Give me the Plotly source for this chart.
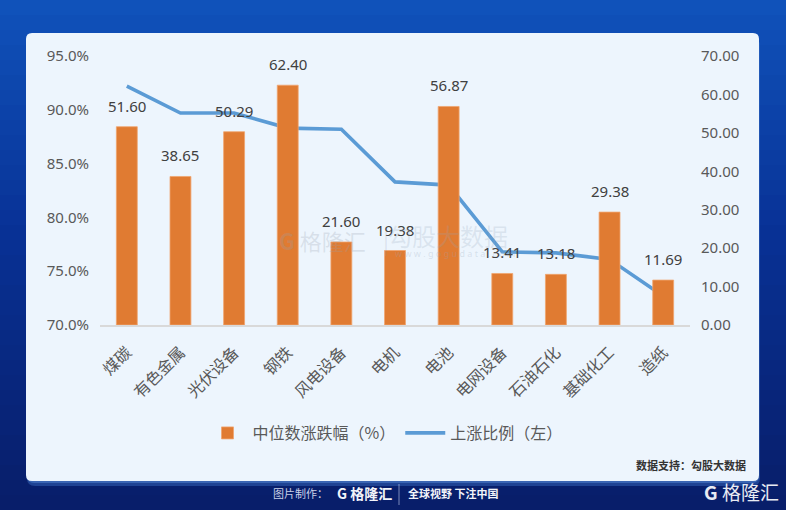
import plotly.graph_objects as go

categories = ["煤碳", "有色金属", "光伏设备", "钢铁", "风电设备", "电机", "电池", "电网设备", "石油石化", "基础化工", "造纸"]
median_change = [51.60, 38.65, 50.29, 62.40, 21.60, 19.38, 56.87, 13.41, 13.18, 29.38, 11.69]
rise_ratio = [92.2, 89.7, 89.7, 88.3, 88.2, 83.3, 83.0, 76.8, 76.7, 76.1, 72.7]
left_ticks = [70, 75, 80, 85, 90, 95]
left_tick_text = ["70.0%", "75.0%", "80.0%", "85.0%", "90.0%", "95.0%"]
right_ticks = [0, 10, 20, 30, 40, 50, 60, 70]

W, H = 786, 510
L, R, T, B = 100, 96, 56, 185
PW, PH = W - L - R, H - T - B


def px(x):
    return (x - L) / PW


def py(y):
    return (H - B - y) / PH


fig = go.Figure()

fig.add_trace(go.Bar(
    x=categories, y=median_change, yaxis="y2", name="中位数涨跌幅（%）",
    marker=dict(color="#e07b32", line=dict(color="#f0a56e", width=0.8)),
))
fig.add_trace(go.Scatter(
    x=categories, y=rise_ratio, yaxis="y", name="上涨比例（左）", mode="lines",
    line=dict(color="#5b9bd5", width=3.6),
))

annotations = []
for c, v in zip(categories, median_change):
    annotations.append(dict(x=c, y=v, xref="x", yref="y2", text=f"{v:.2f}", showarrow=False,
                            yanchor="bottom", yshift=9, font=dict(size=15, color="#404040", family="Noto Sans")))

shapes = []
# background gradient (top brighter blue to bottom navy)
top = (16, 82, 186)
mid = (9, 50, 150)
bot = (8, 30, 106)
n = 34
for i in range(n):
    t = i / (n - 1)
    if t < 0.45:
        u = t / 0.45
        c = tuple(int(top[k] + (mid[k] - top[k]) * u) for k in range(3))
    else:
        u = (t - 0.45) / 0.55
        c = tuple(int(mid[k] + (bot[k] - mid[k]) * u) for k in range(3))
    y0 = H * i / n
    y1 = H * (i + 1) / n + 1
    shapes.append(dict(type="rect", xref="paper", yref="paper", x0=px(0), x1=px(W), y0=py(y1), y1=py(y0),
                       fillcolor=f"rgb{c}", line=dict(width=0), layer="below"))


def rrect(x0, y0, x1, y1, r):
    ax, ay = r / PW, r / PH
    X0, X1, Y0, Y1 = px(x0), px(x1), py(y1), py(y0)
    return (f"M {X0+ax},{Y0} L {X1-ax},{Y0} Q {X1},{Y0} {X1},{Y0+ay} L {X1},{Y1-ay} Q {X1},{Y1} {X1-ax},{Y1} "
            f"L {X0+ax},{Y1} Q {X0},{Y1} {X0},{Y1-ay} L {X0},{Y0+ay} Q {X0},{Y0} {X0+ax},{Y0} Z")


# soft glow below panel
shapes.append(dict(type="path", xref="paper", yref="paper", path=rrect(27, 38, 760, 486, 8),
                   fillcolor="rgba(60,110,195,0.45)", line=dict(width=0), layer="below"))
shapes.append(dict(type="path", xref="paper", yref="paper", path=rrect(27, 36, 759, 483, 7),
                   fillcolor="rgba(80,130,205,0.55)", line=dict(width=0), layer="below"))
shapes.append(dict(type="path", xref="paper", yref="paper", path=rrect(26, 33, 759, 481, 6),
                   fillcolor="#edf5fd", line=dict(width=0), layer="below"))
# footer separator
shapes.append(dict(type="line", xref="paper", yref="paper", x0=px(399), x1=px(399), y0=py(484), y1=py(505),
                   line=dict(color="rgba(200,210,240,0.6)", width=1)))

# watermark
wm = dict(xref="paper", yref="paper", showarrow=False, xanchor="center", yanchor="middle")
annotations.append(dict(wm, x=px(322), y=py(240), text="<b>G</b> 格隆汇",
                        font=dict(size=22, color="rgba(150,160,175,0.25)", family="Noto Sans CJK SC")))
annotations.append(dict(wm, x=px(386), y=py(240), text="|",
                        font=dict(size=22, color="rgba(150,160,175,0.22)", family="Noto Sans CJK SC")))
annotations.append(dict(wm, x=px(448), y=py(235), text="勾股大数据",
                        font=dict(size=24, color="rgba(150,165,185,0.22)", family="Noto Sans CJK SC")))
annotations.append(dict(wm, x=px(455), y=py(254), text="w w w . g o g u d a t a . c o m",
                        font=dict(size=9, color="rgba(150,165,185,0.28)", family="Noto Sans")))

# source
annotations.append(dict(xref="paper", yref="paper", x=px(748), y=py(465), text="<b>数据支持：勾股大数据</b>", showarrow=False,
                        xanchor="right", yanchor="middle", font=dict(size=11, color="#333333", family="Noto Sans CJK SC")))
# footer
ft = dict(xref="paper", yref="paper", showarrow=False, yanchor="middle")
annotations.append(dict(ft, x=px(330), y=py(493), text="图片制作：", xanchor="right",
                        font=dict(size=11, color="#c8d0e8", family="Noto Sans CJK SC")))
annotations.append(dict(ft, x=px(335), y=py(493), text="<b>G</b> <b>格隆汇</b>", xanchor="left",
                        font=dict(size=14, color="#f2f4fa", family="Noto Sans CJK SC")))
annotations.append(dict(ft, x=px(406), y=py(493), text="<b>全球视野 下注中国</b>", xanchor="left",
                        font=dict(size=11, color="#f2f4fa", family="Noto Sans CJK SC")))
annotations.append(dict(ft, x=px(781), y=py(492), text="<b>G</b> 格隆汇", xanchor="right",
                        font=dict(size=19, color="#e8ebf3", family="Noto Sans CJK SC")))

fig.update_layout(
    width=W, height=H,
    margin=dict(l=L, r=R, t=T, b=B),
    paper_bgcolor="#0a2f92",
    plot_bgcolor="rgba(0,0,0,0)",
    bargap=0.61,
    showlegend=True,
    legend=dict(orientation="h", x=px(385), y=py(433), xanchor="center", yanchor="middle",
                font=dict(size=16, color="#595959", family="Noto Sans CJK SC"), itemwidth=40,
                bgcolor="rgba(0,0,0,0)"),
    xaxis=dict(showline=True, linecolor="#d9d9d9", linewidth=1.5, ticks="", showgrid=False,
               tickangle=-45, ticklabelstandoff=10,
               tickfont=dict(size=16, color="#595959", family="Noto Sans CJK SC")),
    yaxis=dict(range=[70, 95], tickvals=left_ticks, ticktext=left_tick_text, showgrid=False,
               zeroline=False, ticklabelstandoff=10,
               tickfont=dict(size=15, color="#595959", family="Noto Sans")),
    yaxis2=dict(range=[0, 70], tickvals=right_ticks, tickformat=".2f", overlaying="y", side="right",
                showgrid=False, zeroline=False, ticklabelstandoff=10,
                tickfont=dict(size=15, color="#595959", family="Noto Sans")),
    shapes=shapes,
    annotations=annotations,
)

fig.write_html("out.html")
